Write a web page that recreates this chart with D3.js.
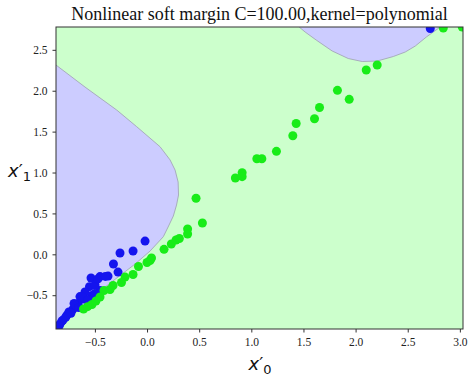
<!DOCTYPE html>
<html><head><meta charset="utf-8">
<script src="https://cdn.jsdelivr.net/npm/d3@7"></script>
<style>body{margin:0;background:#fff}svg{display:block}</style>
</head><body>
<div id="chart"></div>
<script>
const title = "Nonlinear soft margin C=100.00,kernel=polynomial";
const xDomain = [-0.873, 3.03];
const yDomain = [-0.913, 2.779];
const xTicks = [-0.5, 0.0, 0.5, 1.0, 1.5, 2.0, 2.5, 3.0];
const yTicks = [-0.5, 0.0, 0.5, 1.0, 1.5, 2.0, 2.5];

// decision boundary of the left class-0 region
const boundaryLeft = [
  [-0.873,2.314],[-0.595,2.045],[-0.291,1.764],[-0.099,1.560],[0.125,1.315],
  [0.221,1.154],[0.269,1.030],[0.298,0.884],[0.302,0.725],[0.283,0.603],
  [0.252,0.468],[0.202,0.334],[0.156,0.215],[0.029,0.040],[-0.115,-0.119],
  [-0.278,-0.278],[-0.451,-0.449],[-0.605,-0.620],[-0.758,-0.791],[-0.854,-0.913]
];
// decision boundary of the top class-0 region
const boundaryTop = [
  [1.459,2.779],[1.516,2.718],[1.622,2.620],[1.775,2.486],[1.929,2.394],
  [2.063,2.357],[2.207,2.363],[2.361,2.418],[2.476,2.473],[2.572,2.546],
  [2.678,2.656],[2.745,2.718],[2.812,2.779]
];

// class 0 (blue)
const class0X = [-0.019,-0.134,-0.259,-0.322,-0.278,-0.374,-0.451,-0.537,-0.552,-0.451,
  -0.528,-0.643,-0.605,-0.662,-0.710,-0.768,-0.806,-0.835,-0.859,2.716,
  -0.681,-0.749,-0.595,-0.499,-0.873,-0.816,-0.700,-0.620,-0.780,-0.845,
  -0.500,-0.470,-0.400,-0.570,-0.730,-0.655];
const class0Y = [0.162,0.040,0.016,-0.118,-0.217,-0.266,-0.272,-0.290,-0.395,-0.443,
  -0.504,-0.517,-0.547,-0.602,-0.670,-0.743,-0.804,-0.853,-0.896,2.760,
  -0.632,-0.705,-0.461,-0.375,-0.913,-0.815,-0.600,-0.520,-0.770,-0.880,
  -0.480,-0.300,-0.270,-0.560,-0.720,-0.650];
// class 1 (green)
const class1X = [0.043,0.029,0.000,-0.082,-0.134,-0.211,-0.245,-0.326,-0.355,-0.413,
  -0.451,-0.528,-0.609,0.163,0.233,0.278,0.310,0.389,0.389,0.531,
  0.470,0.847,0.912,0.912,1.053,1.101,1.241,1.398,1.430,1.606,
  1.654,1.826,1.939,2.102,2.207,2.841,3.023,-0.570,-0.490];
const class1Y = [-0.045,-0.076,-0.100,-0.149,-0.247,-0.278,-0.345,-0.381,-0.430,-0.443,
  -0.522,-0.614,-0.669,0.061,0.126,0.175,0.193,0.309,0.248,0.383,
  0.685,0.933,0.998,0.949,1.169,1.169,1.259,1.450,1.599,1.658,
  1.795,2.005,1.895,2.253,2.314,2.767,2.779,-0.640,-0.570];

const W = 474, H = 382;
const m = {left:56, right:463, top:27, bottom:329};
const x = d3.scaleLinear().domain(xDomain).range([m.left, m.right]);
const y = d3.scaleLinear().domain(yDomain).range([m.bottom, m.top]);

const svg = d3.select("#chart").append("svg").attr("width", W).attr("height", H);
svg.append("defs").append("clipPath").attr("id","clip")
  .append("rect").attr("x", m.left).attr("y", m.top)
  .attr("width", m.right-m.left).attr("height", m.bottom-m.top);

const g = svg.append("g").attr("clip-path","url(#clip)");
g.append("rect").attr("x", m.left).attr("y", m.top)
  .attr("width", m.right-m.left).attr("height", m.bottom-m.top).attr("fill","#ccffcc");

const line = d3.line().x(d=>x(d[0])).y(d=>y(d[1]));
const leftPoly = boundaryLeft.concat([[xDomain[0], yDomain[0]]]);
g.append("path").attr("d", line(leftPoly)+"Z").attr("fill","#ccccff");
g.append("path").attr("d", line(boundaryTop)+"Z").attr("fill","#ccccff");
g.append("path").attr("d", line(boundaryLeft)).attr("fill","none").attr("stroke","#a8adbd").attr("stroke-width",1);
g.append("path").attr("d", line(boundaryTop)).attr("fill","none").attr("stroke","#a8adbd").attr("stroke-width",1);

const pts0 = class0X.map((v,i)=>[v, class0Y[i]]);
const pts1 = class1X.map((v,i)=>[v, class1Y[i]]);
g.selectAll("circle.c0").data(pts0).enter().append("circle").attr("class","c0")
  .attr("cx",d=>x(d[0])).attr("cy",d=>y(d[1])).attr("r",4.5).attr("fill","#1414ee");
g.selectAll("circle.c1").data(pts1).enter().append("circle").attr("class","c1")
  .attr("cx",d=>x(d[0])).attr("cy",d=>y(d[1])).attr("r",4.5).attr("fill","#18ec18");

// axes
const fmt = d => d3.format(".1f")(d).replace("-", "\u2212");
const xAxis = d3.axisBottom(x).tickValues(xTicks).tickFormat(fmt).tickSizeOuter(0).tickSize(3.5).tickPadding(5);
const yAxis = d3.axisLeft(y).tickValues(yTicks).tickFormat(fmt).tickSizeOuter(0).tickSize(3.5).tickPadding(5);
const gx = svg.append("g").attr("transform",`translate(0,${m.bottom})`).call(xAxis);
const gy = svg.append("g").attr("transform",`translate(${m.left},0)`).call(yAxis);
[gx, gy].forEach(a => {
  a.select(".domain").remove();
  a.selectAll("line").attr("stroke","#333");
  a.selectAll("text").attr("font-family","'Liberation Serif', serif").attr("font-size",11.5).attr("fill","#222");
});
svg.append("rect").attr("x", m.left).attr("y", m.top)
  .attr("width", m.right-m.left).attr("height", m.bottom-m.top)
  .attr("fill","none").attr("stroke","#333").attr("stroke-width",1);

svg.append("text").attr("x", (m.left+m.right)/2).attr("y", 20).attr("text-anchor","middle")
  .attr("font-family","'Liberation Serif', serif").attr("font-size",18).attr("fill","#111").text(title);

// axis labels
const xl = svg.append("text").attr("x", 260).attr("y", 370).attr("text-anchor","middle")
  .attr("font-family","'DejaVu Sans', sans-serif").attr("font-size",18).attr("fill","#111");
xl.append("tspan").attr("font-style","italic").text("x");
xl.append("tspan").text("\u2032");
xl.append("tspan").attr("font-size",13).attr("dy",4).text("0");
const yl = svg.append("text").attr("x", 8).attr("y", 177).attr("text-anchor","start")
  .attr("font-family","'DejaVu Sans', sans-serif").attr("font-size",18).attr("fill","#111");
yl.append("tspan").attr("font-style","italic").text("x");
yl.append("tspan").text("\u2032");
yl.append("tspan").attr("font-size",13).attr("dy",4).text("1");
</script>
</body></html>
